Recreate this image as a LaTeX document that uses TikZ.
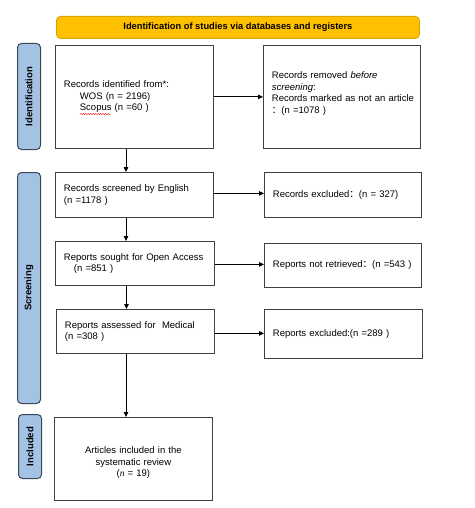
\documentclass[tikz,border=0pt]{standalone}
\usepackage{fontspec}
\setmainfont{Liberation Sans}
\newfontfamily\cjk{Noto Sans CJK SC}
\newfontfamily\nserif{Liberation Serif}
\usetikzlibrary{arrows.meta,decorations.pathmorphing}
\definecolor{bannerfill}{HTML}{FFC000}
\definecolor{bannerdraw}{HTML}{D9A300}
\definecolor{sidefill}{HTML}{A4C2E4}
\definecolor{sidedraw}{HTML}{3A4856}
\definecolor{boxdraw}{HTML}{404040}
\newcommand{\fwc}{{\cjk ：}}
\begin{document}
\begin{tikzpicture}[x=1pt,y=-1pt,
  every node/.style={font=\fontsize{9.5}{11.5}\selectfont},
  box/.style={draw=boxdraw,line width=0.8pt,fill=white,anchor=north west,inner xsep=8.5pt,inner ysep=0pt,align=left},
  side/.style={draw=sidedraw,line width=1pt,fill=sidefill,rounded corners=4pt,minimum width=23pt,anchor=north west,inner sep=0pt},
  sidelabel/.style={rotate=90,font=\fontsize{9.5}{11.5}\selectfont\bfseries},
  arr/.style={draw=black,line width=0.8pt,-{Triangle[length=5pt,width=4.5pt]}}
]
\useasboundingbox (0,0) rectangle (474,508);
\fill[white] (0,0) rectangle (474,508);

% banner
\node[draw=bannerdraw,line width=0.8pt,fill=bannerfill,rounded corners=4pt,minimum width=363pt,minimum height=22pt,anchor=north west,inner sep=0pt,font=\fontsize{9.3}{11}\selectfont\bfseries] (banner) at (56,16) {Identification of studies via databases and registers};

% side bars
\node[side,minimum height=106pt] (sideid) at (17,43) {};
\node[sidelabel] at (sideid.center) {Identification};
\node[side,minimum height=231pt] (sidescr) at (17,172) {};
\node[sidelabel] at (sidescr.center) {Screening};
\node[side,minimum height=64pt] (sideinc) at (18,414) {};
\node[sidelabel] at (sideinc.center) {Included};

% boxes
\node[box,minimum width=158pt,minimum height=103pt,text width=141pt] (b1) at (55,45)
 {Records identified from*:\\\hspace*{16pt}WOS (n = 2196)\\\hspace*{16pt}Scopus (n =60 )};
\node[box,minimum width=157pt,minimum height=103pt,text width=140pt] (b2) at (263,45)
 {Records removed \textit{before}\\\textit{screening}:\\\mbox{Records marked as not an article}\\\fwc(n =1078 )\\[-3pt]\mbox{}};
\node[box,minimum width=158pt,minimum height=45pt,text width=141pt] (b3) at (55,172)
 {Records screened by English\\(n =1178 )};
\node[box,minimum width=157pt,minimum height=45pt,text width=140pt] (b4) at (264,172)
 {Records excluded\fwc(n = 327)};
\node[box,minimum width=159pt,minimum height=44pt,text width=142pt] (b5) at (55,241)
 {Reports sought for Open Access\\\hspace*{10pt}(n =851 )};
\node[box,minimum width=157pt,minimum height=44pt,text width=140pt] (b6) at (264,243)
 {Reports not retrieved\fwc(n =543 )};
\node[box,minimum width=158pt,minimum height=44pt,text width=141pt] (b7) at (56,309)
 {Reports assessed for\ \ Medical\\(n =308 )};
\node[box,minimum width=158pt,minimum height=49pt,text width=141pt] (b8) at (264,309)
 {Reports excluded:(n =289 )};
\node[box,minimum width=158pt,minimum height=83pt,text width=141pt,align=center] (b9) at (54,417)
 {\\[3pt]Articles included in the\\systematic review\\({\nserif\itshape n} = 19)};

% red spell-check underline under Scopus
\coordinate (sq1) at (80,114);
\coordinate (sq2) at (111,114);
\draw[red,line width=0.4pt,decorate,decoration={snake,amplitude=0.6pt,segment length=2.5pt}] (sq1) -- (sq2);

% arrow anchor points
\coordinate (a3) at ([yshift=1.5pt]b3.east);
\coordinate (a5) at ([yshift=-1pt]b5.east);
\coordinate (a7) at ([yshift=-2pt]b7.east);
\coordinate (cx) at (126,0);
\coordinate (cx2) at (126.5,0);

% arrows
\draw[arr] (b1.east) -- (b2.west |- b1.east);
\draw[arr] (a3) -- (b4.west |- a3);
\draw[arr] (a5) -- (b6.west |- a5);
\draw[arr] (a7) -- (b8.west |- a7);
\draw[arr] (b1.south -| cx) -- (b3.north -| cx);
\draw[arr] (b3.south -| cx) -- (b5.north -| cx);
\draw[arr] (b5.south -| cx2) -- (b7.north -| cx2);
\draw[arr] (b7.south -| cx) -- (b9.north -| cx);
\end{tikzpicture}
\end{document}
